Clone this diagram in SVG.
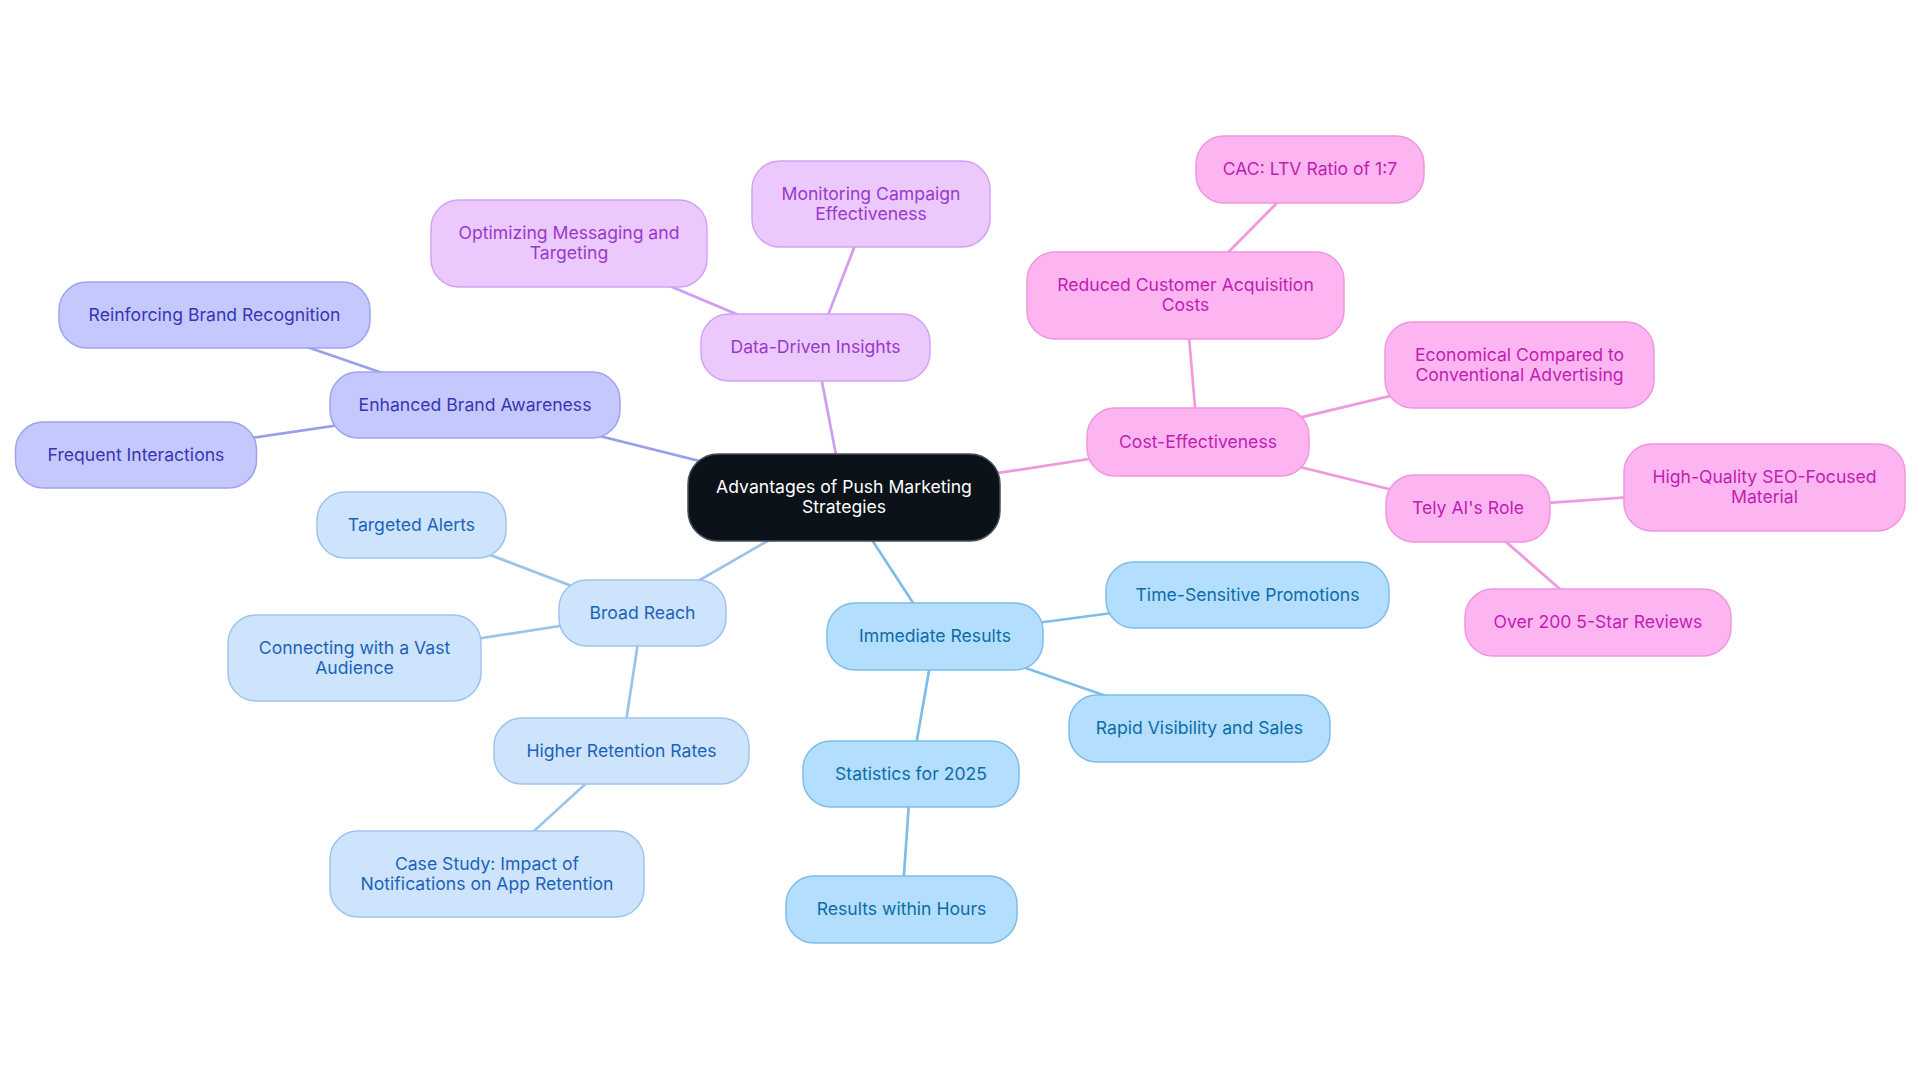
<svg xmlns="http://www.w3.org/2000/svg" width="1920" height="1083" viewBox="0 0 1920 1083">
<style>
text{font-family:Inter,"Liberation Sans",sans-serif;font-size:17.6px;text-anchor:middle;dominant-baseline:central;transform:translateY(-1px)}
rect{stroke-width:1.5}
.c rect{fill:#0c1219;stroke:#4a5058}.c text{fill:#ffffff}
.i rect{fill:#c5c8fc;stroke:#9ea3ee}.i text{fill:#3536b5}
.l rect{fill:#ebc9fc;stroke:#d3a3f2}.l text{fill:#9a38cc}
.p rect{fill:#fdb5f1;stroke:#f095e0}.p text{fill:#c01eb2}
.b rect{fill:#cde4fc;stroke:#9dc4ec}.b text{fill:#1c63b8}
.s rect{fill:#b4defd;stroke:#7ebdea}.s text{fill:#0c6ca8}
#edges line{stroke-width:2.7;fill:none}
.ei{stroke:#9b9fe8}.el{stroke:#cf9ef0}.ep{stroke:#ee9ade}.eb{stroke:#9cc4ea}.es{stroke:#7ebde8}
</style>
<rect width="1920" height="1083" fill="#ffffff"/>
<g id="edges">
<line class="ei" x1="844" y1="497" x2="475" y2="405"/>
<line class="ei" x1="475" y1="405" x2="214.5" y2="315"/>
<line class="ei" x1="475" y1="405" x2="136" y2="455"/>
<line class="el" x1="844" y1="497" x2="815.5" y2="347.5"/>
<line class="el" x1="815.5" y1="347.5" x2="569" y2="243.5"/>
<line class="el" x1="815.5" y1="347.5" x2="871" y2="204"/>
<line class="ep" x1="844" y1="497" x2="1198" y2="442"/>
<line class="ep" x1="1198" y1="442" x2="1185.5" y2="295.5"/>
<line class="ep" x1="1185.5" y1="295.5" x2="1310" y2="169.5"/>
<line class="ep" x1="1198" y1="442" x2="1519.5" y2="365"/>
<line class="ep" x1="1198" y1="442" x2="1468" y2="508.5"/>
<line class="ep" x1="1468" y1="508.5" x2="1764.5" y2="487.5"/>
<line class="ep" x1="1468" y1="508.5" x2="1598" y2="622.5"/>
<line class="eb" x1="844" y1="497" x2="642.5" y2="613"/>
<line class="eb" x1="642.5" y1="613" x2="411.5" y2="525"/>
<line class="eb" x1="642.5" y1="613" x2="354.5" y2="658"/>
<line class="eb" x1="642.5" y1="613" x2="621.5" y2="751"/>
<line class="eb" x1="621.5" y1="751" x2="487" y2="874"/>
<line class="es" x1="844" y1="497" x2="935" y2="636.5"/>
<line class="es" x1="935" y1="636.5" x2="1247.5" y2="595"/>
<line class="es" x1="935" y1="636.5" x2="1199.5" y2="728.5"/>
<line class="es" x1="935" y1="636.5" x2="911" y2="774"/>
<line class="es" x1="911" y1="774" x2="901.5" y2="909.5"/>
</g>
<g id="n-root" class="c"><rect x="688" y="454" width="312" height="87" rx="30"/><text x="844" y="487.5">Advantages of Push Marketing</text><text x="844" y="507.5">Strategies</text></g>
<g id="n-brand" class="i"><rect x="330" y="372" width="290" height="66" rx="28"/><text x="475" y="405">Enhanced Brand Awareness</text></g>
<g id="n-recog" class="i"><rect x="59" y="282" width="311" height="66" rx="28"/><text x="214.5" y="315">Reinforcing Brand Recognition</text></g>
<g id="n-freq" class="i"><rect x="15.5" y="422" width="241" height="66" rx="28"/><text x="136" y="455">Frequent Interactions</text></g>
<g id="n-data" class="l"><rect x="701" y="314" width="229" height="67" rx="28"/><text x="815.5" y="347.5">Data-Driven Insights</text></g>
<g id="n-optim" class="l"><rect x="431" y="200" width="276" height="87" rx="28"/><text x="569" y="233.5">Optimizing Messaging and</text><text x="569" y="253.5">Targeting</text></g>
<g id="n-monit" class="l"><rect x="752" y="161" width="238" height="86" rx="28"/><text x="871" y="194">Monitoring Campaign</text><text x="871" y="214">Effectiveness</text></g>
<g id="n-cost" class="p"><rect x="1087" y="408" width="222" height="68" rx="28"/><text x="1198" y="442">Cost-Effectiveness</text></g>
<g id="n-reduced" class="p"><rect x="1027" y="252" width="317" height="87" rx="28"/><text x="1185.5" y="285.5">Reduced Customer Acquisition</text><text x="1185.5" y="305.5">Costs</text></g>
<g id="n-cac" class="p"><rect x="1196" y="136" width="228" height="67" rx="28"/><text x="1310" y="169.5">CAC: LTV Ratio of 1:7</text></g>
<g id="n-econ" class="p"><rect x="1385" y="322" width="269" height="86" rx="28"/><text x="1519.5" y="355">Economical Compared to</text><text x="1519.5" y="375">Conventional Advertising</text></g>
<g id="n-tely" class="p"><rect x="1386" y="475" width="164" height="67" rx="28"/><text x="1468" y="508.5">Tely AI's Role</text></g>
<g id="n-seo" class="p"><rect x="1624" y="444" width="281" height="87" rx="28"/><text x="1764.5" y="477.5">High-Quality SEO-Focused</text><text x="1764.5" y="497.5">Material</text></g>
<g id="n-reviews" class="p"><rect x="1465" y="589" width="266" height="67" rx="28"/><text x="1598" y="622.5">Over 200 5-Star Reviews</text></g>
<g id="n-broad" class="b"><rect x="559" y="580" width="167" height="66" rx="28"/><text x="642.5" y="613">Broad Reach</text></g>
<g id="n-target" class="b"><rect x="317" y="492" width="189" height="66" rx="28"/><text x="411.5" y="525">Targeted Alerts</text></g>
<g id="n-vast" class="b"><rect x="228" y="615" width="253" height="86" rx="28"/><text x="354.5" y="648">Connecting with a Vast</text><text x="354.5" y="668">Audience</text></g>
<g id="n-retention" class="b"><rect x="494" y="718" width="255" height="66" rx="28"/><text x="621.5" y="751">Higher Retention Rates</text></g>
<g id="n-case" class="b"><rect x="330" y="831" width="314" height="86" rx="28"/><text x="487" y="864">Case Study: Impact of</text><text x="487" y="884">Notifications on App Retention</text></g>
<g id="n-immediate" class="s"><rect x="827" y="603" width="216" height="67" rx="28"/><text x="935" y="636.5">Immediate Results</text></g>
<g id="n-time" class="s"><rect x="1106" y="562" width="283" height="66" rx="28"/><text x="1247.5" y="595">Time-Sensitive Promotions</text></g>
<g id="n-rapid" class="s"><rect x="1069" y="695" width="261" height="67" rx="28"/><text x="1199.5" y="728.5">Rapid Visibility and Sales</text></g>
<g id="n-stats" class="s"><rect x="803" y="741" width="216" height="66" rx="28"/><text x="911" y="774">Statistics for 2025</text></g>
<g id="n-hours" class="s"><rect x="786" y="876" width="231" height="67" rx="28"/><text x="901.5" y="909.5">Results within Hours</text></g>
</svg>
